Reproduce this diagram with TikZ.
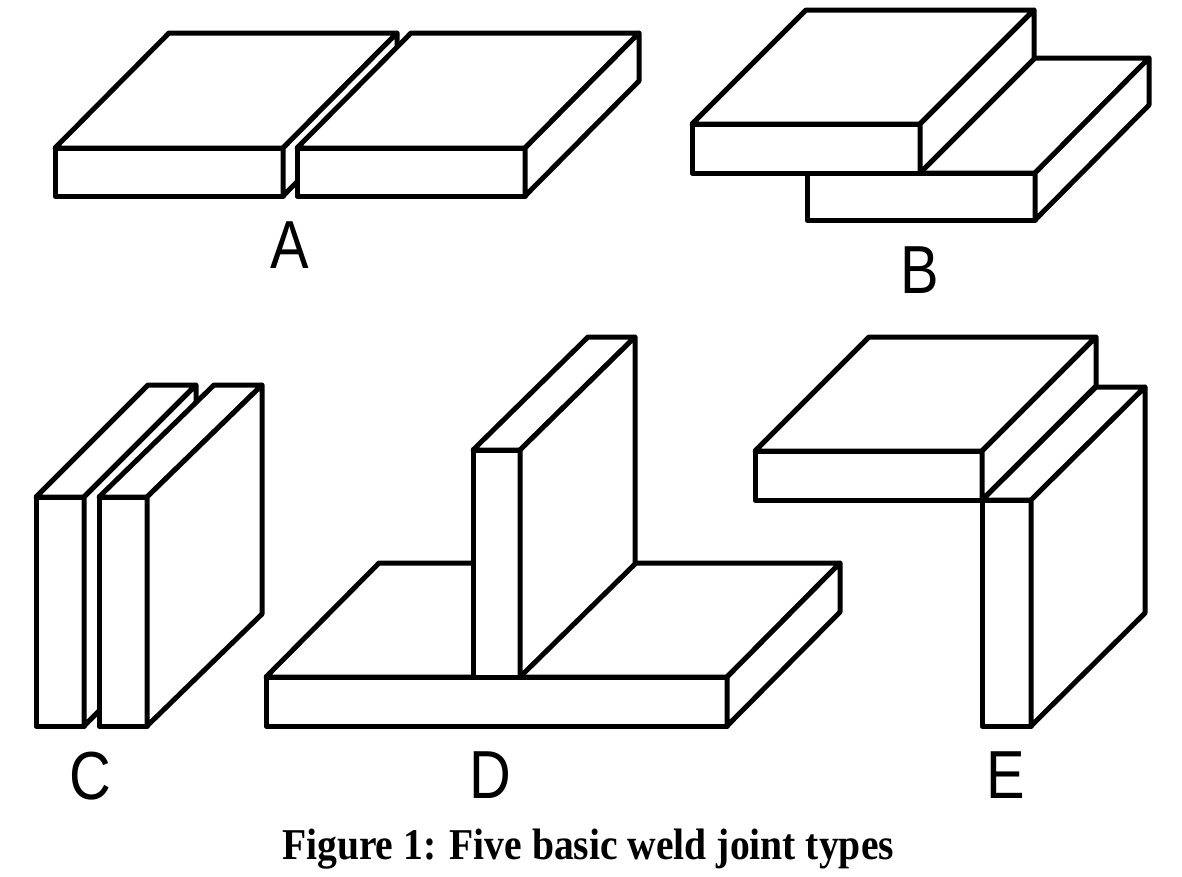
\documentclass[tikz,border=0pt]{standalone}
\usepackage{fontspec}
\setmainfont{Liberation Serif}
\newfontfamily\labelfont{Liberation Sans}

\tikzset{
  plate/.style={draw=black, fill=white, line width=5pt, line join=round},
  joint label/.style={font=\labelfont\fontsize{68}{68}\selectfont, inner sep=0pt, anchor=north, xscale=0.85},
}
% box: front-left x, front-top y, width, height, depth dx, depth dy
\newcommand{\weldbox}[6]{%
  \draw[plate] (#1,#2) rectangle ++(#3,#4);
  \draw[plate] (#1,#2) -- ++(#5,-#6) -- ++(#3,0) -- ++(-#5,#6) -- cycle;
  \draw[plate] (#1+#3,#2) -- ++(#5,-#6) -- ++(0,#4) -- ++(-#5,#6) -- cycle;
}

\begin{document}
\begin{tikzpicture}[x=1pt, y=-1pt]
  \useasboundingbox (0,0) rectangle (1182,876);
  % A
  \weldbox{55}{148}{228}{48}{114}{115}
  \weldbox{297}{148}{228}{48}{114}{115}
  \node[joint label] (lA) at (290,222) {A};
  % B
  \weldbox{807}{173}{228}{47}{114}{115}
  \weldbox{692}{124}{228}{49}{114}{114}
  \node[joint label] (lB) at (920,247) {B};
  % C
  \weldbox{36}{497}{48}{229}{112}{112}
  \weldbox{99}{497}{48}{229}{115}{112}
  \node[joint label] (lC) at (90,752) {C};
  % D
  \weldbox{266}{677}{461}{49}{113}{114}
  \weldbox{473}{450}{47}{227}{115}{113}
  \node[joint label] (lD) at (490,752) {D};
  % E
  \weldbox{982}{500}{49}{226}{114}{113}
  \weldbox{755}{451}{227}{49}{114}{114}
  \node[joint label] (lE) at (1006,752) {E};
  % caption
  \node[font=\bfseries\fontsize{44}{44}\selectfont, inner sep=0pt, anchor=north, xscale=0.9] (cap) at (588,829)
    {Figure 1: Five basic weld joint types};
\end{tikzpicture}
\end{document}
